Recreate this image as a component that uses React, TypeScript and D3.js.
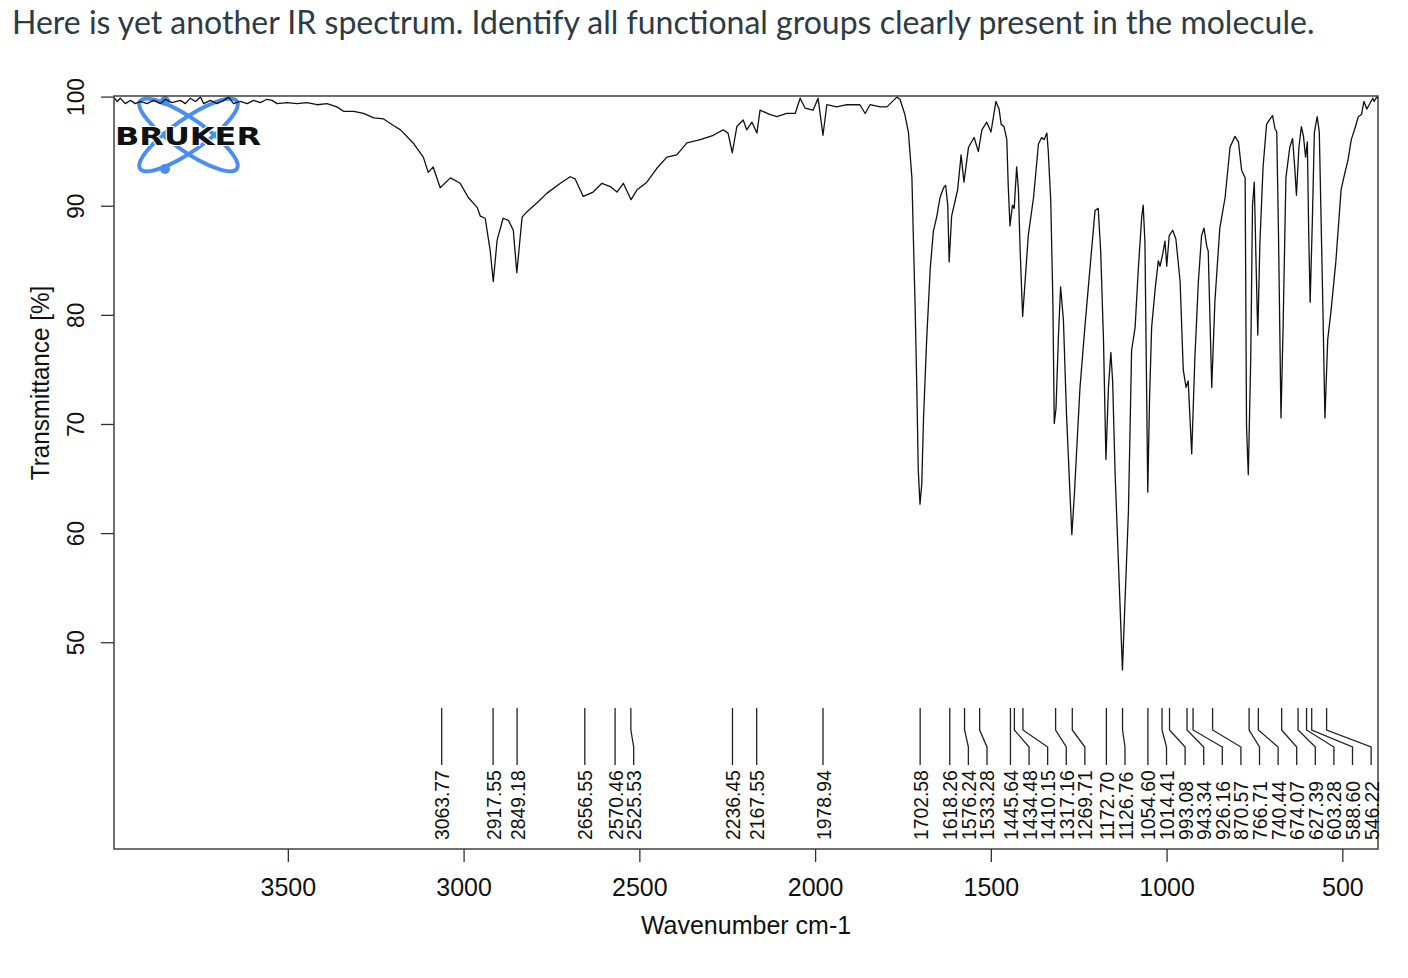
import React from "react";
import * as d3 from "d3";

const titleText =
  "Here is yet another IR spectrum. Identify all functional groups clearly present in the molecule.";
const xLabel = "Wavenumber cm-1";
const yLabel = "Transmittance [%]";
const xTicks = [3500, 3000, 2500, 2000, 1500, 1000, 500];
const yTicks = [50, 60, 70, 80, 90, 100];

const wavenumbers = [
  3995, 3987, 3978, 3964, 3949, 3935, 3921, 3902, 3883, 3864, 3850, 3831, 3807, 3793, 3779, 3764,
  3750, 3741, 3722, 3703, 3684, 3670, 3656, 3637, 3617, 3599, 3580, 3561, 3546, 3532, 3504, 3475,
  3447, 3418, 3390, 3362, 3343, 3314, 3286, 3257, 3229, 3201, 3181, 3145, 3116, 3102, 3088, 3068,
  3039, 3011, 2988, 2963, 2954, 2940, 2926, 2917, 2906, 2889, 2874, 2860, 2850, 2835, 2821, 2793,
  2764, 2726, 2698, 2684, 2661, 2633, 2608, 2584, 2565, 2547, 2525, 2508, 2480, 2451, 2423, 2395,
  2366, 2328, 2291, 2263, 2249, 2237, 2224, 2206, 2196, 2181, 2167, 2158, 2129, 2110, 2082, 2058,
  2044, 2030, 2007, 1993, 1979, 1968, 1940, 1911, 1874, 1859, 1845, 1816, 1797, 1769, 1760, 1746,
  1736, 1726, 1722, 1717, 1712, 1708, 1703, 1698, 1693, 1684, 1674, 1665, 1655, 1646, 1636, 1630,
  1624, 1620, 1613, 1603, 1596, 1586, 1578, 1565, 1549, 1537, 1527, 1513, 1501, 1487, 1478, 1472,
  1464, 1456, 1452, 1447, 1440, 1435, 1428, 1423, 1418, 1411, 1404, 1395, 1380, 1366, 1357, 1350,
  1342, 1338, 1331, 1325, 1321, 1316, 1309, 1303, 1295, 1286, 1278, 1271, 1264, 1248, 1234, 1217,
  1205, 1196, 1189, 1181, 1174, 1167, 1160, 1155, 1148, 1139, 1127, 1120, 1110, 1101, 1091, 1082,
  1072, 1068, 1063, 1055, 1050, 1044, 1034, 1025, 1020, 1012, 1006, 1001, 994, 984, 975, 963,
  954, 946, 940, 930, 921, 911, 902, 895, 887, 883, 873, 864, 850, 835, 821, 807,
  797, 788, 778, 774, 769, 762, 757, 752, 747, 742, 736, 727, 717, 707, 700, 693,
  688, 683, 676, 670, 662, 651, 643, 637, 632, 625, 618, 612, 606, 601, 597, 593,
  587, 581, 573, 567, 557, 551, 543, 534, 520, 505, 499, 485, 476, 466, 456, 447,
  440, 432, 425, 415, 411, 404, 400,
];

const transmittance = [
  99.9, 99.6, 99.9, 99.4, 99.7, 99.4, 99.6, 99.4, 99.7, 99.4, 99.8, 99.5, 99.7, 99.4, 99.9, 99.6,
  100.0, 99.4, 99.7, 99.4, 99.7, 100.0, 99.4, 99.6, 99.4, 99.7, 99.5, 99.8, 99.7, 99.4, 99.5, 99.4,
  99.5, 99.3, 99.4, 99.1, 98.7, 98.7, 98.5, 98.1, 98.0, 97.4, 97.0, 95.8, 94.5, 93.1, 93.6, 91.7,
  92.6, 92.1, 90.8, 89.9, 89.1, 88.9, 86.0, 83.1, 86.9, 88.9, 88.7, 87.8, 83.9, 89.0, 89.5, 90.3,
  91.2, 92.1, 92.7, 92.5, 90.9, 91.3, 92.1, 91.8, 91.3, 92.1, 90.6, 91.5, 92.2, 93.5, 94.5, 94.7,
  95.8, 96.1, 96.5, 97.0, 96.7, 94.9, 97.3, 97.9, 97.0, 97.7, 96.7, 98.8, 98.4, 98.2, 98.5, 98.5,
  99.9, 99.0, 98.8, 99.9, 96.5, 99.3, 99.1, 99.3, 99.3, 98.5, 99.3, 99.1, 99.1, 100.0, 99.8, 98.4,
  96.8, 92.6, 87.3, 81.0, 73.3, 65.9, 62.7, 64.5, 70.5, 77.8, 84.2, 87.7, 89.1, 90.8, 91.7, 91.9,
  90.1, 84.9, 89.1, 90.5, 91.5, 94.7, 92.2, 95.4, 96.3, 95.0, 97.0, 97.7, 96.8, 99.6, 98.9, 97.5,
  97.3, 96.1, 91.9, 88.2, 90.1, 89.8, 93.6, 91.5, 85.9, 79.9, 83.1, 87.3, 90.8, 95.7, 96.3, 96.1,
  96.7, 95.0, 90.5, 81.3, 70.1, 71.5, 78.2, 82.6, 79.6, 70.8, 64.9, 59.9, 63.5, 73.3, 78.9, 85.2,
  89.6, 89.8, 85.9, 77.8, 66.8, 73.3, 76.6, 74.0, 65.6, 57.8, 47.5, 53.6, 62.0, 76.8, 78.9, 84.2,
  89.1, 90.1, 86.6, 63.8, 72.3, 78.9, 82.4, 85.0, 84.5, 85.7, 86.8, 84.5, 87.3, 87.8, 87.0, 83.1,
  75.0, 73.4, 74.0, 67.3, 76.1, 83.1, 87.3, 88.0, 86.3, 85.9, 73.4, 81.3, 88.0, 90.8, 95.4, 96.4,
  95.9, 93.3, 92.6, 69.8, 65.4, 76.1, 90.1, 92.2, 84.9, 78.2, 86.6, 93.6, 97.5, 98.0, 98.3, 97.1,
  96.8, 87.3, 70.6, 78.9, 92.6, 95.4, 96.2, 93.6, 91.0, 95.4, 97.3, 96.4, 94.5, 95.9, 87.3, 81.2,
  88.4, 96.8, 98.2, 96.8, 81.0, 70.6, 77.8, 80.3, 84.9, 91.5, 92.4, 94.3, 96.1, 97.1, 98.2, 98.4,
  99.6, 98.9, 99.3, 99.9, 99.6, 100.0, 99.9,
];

const peakPositions = [
  3063.77, 2917.55, 2849.18, 2656.55, 2570.46, 2525.53, 2236.45, 2167.55, 1978.94, 1702.58, 1618.26,
  1576.24, 1533.28, 1445.64, 1434.48, 1410.15, 1317.16, 1269.71, 1172.7, 1126.76, 1054.6, 1014.41,
  993.08, 943.34, 926.16, 870.57, 766.71, 740.44, 674.07, 627.39, 603.28, 588.6, 546.22,
];

const W = 1408;
const H = 978;
const plot = { left: 114, right: 1378, top: 96, bottom: 849 };
const FONT = "'Liberation Sans', Arial, Helvetica, sans-serif";

function RotText(props: {
  x: number;
  y: number;
  text: string;
  size: number;
  anchor: string;
  squeeze?: number;
  fill?: string;
}) {
  const { x, y, text, size, anchor, squeeze = 1, fill = "#111" } = props;
  const bx = x + 0.358 * size;
  return (
    <text
      transform={`translate(${bx},${y}) rotate(-90) scale(${squeeze},1)`}
      fontSize={size}
      fontFamily={FONT}
      textAnchor={anchor}
      fill={fill}
    >
      {text}
    </text>
  );
}

export default function App() {
  const x = d3.scaleLinear().domain([3996, 400]).range([plot.left, plot.right]);
  const y = d3.scaleLinear().domain([31.1, 100.1]).range([plot.bottom, plot.top]);

  const data = wavenumbers.map((w, i) => [w, transmittance[i]] as [number, number]);
  const line = d3
    .line<[number, number]>()
    .x((d) => x(d[0]))
    .y((d) => y(d[1]))
    .curve(d3.curveLinear);

  const gap = 18.6;
  const labelX: number[] = [];
  peakPositions.forEach((p, i) => {
    const px = x(p);
    labelX.push(i === 0 ? px : Math.max(px, labelX[i - 1] + gap));
  });

  const tickLen = 13;
  const logoC = { x: 188.5, y: 135 };

  return (
    <svg
      width={W}
      height={H}
      style={{ position: "absolute", left: 0, top: 0, background: "#fff" }}
    >
      <rect x={0} y={0} width={W} height={H} fill="#fff" />
      <text
        x={12}
        y={34}
        fontFamily="Lato, 'Open Sans', sans-serif"
        fontSize={32}
        fill="#2d3b45"
      >
        {titleText}
      </text>

      <g>
        <ellipse
          cx={logoC.x}
          cy={logoC.y}
          rx={59}
          ry={16}
          fill="none"
          stroke="#4a8ef0"
          strokeWidth={4}
          transform={`rotate(35,${logoC.x},${logoC.y})`}
        />
        <ellipse
          cx={logoC.x}
          cy={logoC.y}
          rx={59}
          ry={16}
          fill="none"
          stroke="#4a8ef0"
          strokeWidth={4}
          transform={`rotate(-35,${logoC.x},${logoC.y})`}
        />
        <circle cx={165} cy={101} r={5} fill="#4a8ef0" />
        <circle cx={165} cy={169} r={5} fill="#4a8ef0" />
        <text
          x={115}
          y={145}
          fontFamily="'DejaVu Sans', sans-serif"
          fontWeight={900}
          fontSize={25}
          textLength={146}
          lengthAdjust="spacingAndGlyphs"
          fill="#111"
          stroke="#fff"
          strokeWidth={2}
          paintOrder="stroke"
        >
          BRUKER
        </text>
      </g>

      <path d={line(data) || ""} fill="none" stroke="#111" strokeWidth={1.3} strokeLinejoin="round" />

      <rect
        x={plot.left}
        y={plot.top}
        width={plot.right - plot.left}
        height={plot.bottom - plot.top}
        fill="none"
        stroke="#333"
        strokeWidth={1.4}
      />

      {xTicks.map((t) => (
        <g key={t}>
          <line x1={x(t)} x2={x(t)} y1={plot.bottom} y2={plot.bottom + tickLen} stroke="#333" strokeWidth={1.3} />
          <text x={x(t)} y={896} textAnchor="middle" fontFamily={FONT} fontSize={25} fill="#111">
            {t}
          </text>
        </g>
      ))}
      <text x={(plot.left + plot.right) / 2} y={934} textAnchor="middle" fontFamily={FONT} fontSize={25} fill="#111">
        {xLabel}
      </text>

      {yTicks.map((t) => (
        <g key={t}>
          <line x1={plot.left - tickLen} x2={plot.left} y1={y(t)} y2={y(t)} stroke="#333" strokeWidth={1.3} />
          <RotText x={75} y={y(t)} text={String(t)} size={24} anchor="middle" squeeze={0.94} />
        </g>
      ))}
      <RotText x={40} y={383} text={yLabel} size={25} anchor="middle" squeeze={0.97} />

      {peakPositions.map((p, i) => {
        const px = x(p);
        const lx = labelX[i];
        return (
          <g key={p}>
            <path
              d={`M${px},708 L${px},730 L${lx},747 L${lx},765`}
              fill="none"
              stroke="#222"
              strokeWidth={1.3}
            />
            <RotText x={lx} y={840} text={p.toFixed(2)} size={21} anchor="start" squeeze={0.92} />
          </g>
        );
      })}
    </svg>
  );
}
